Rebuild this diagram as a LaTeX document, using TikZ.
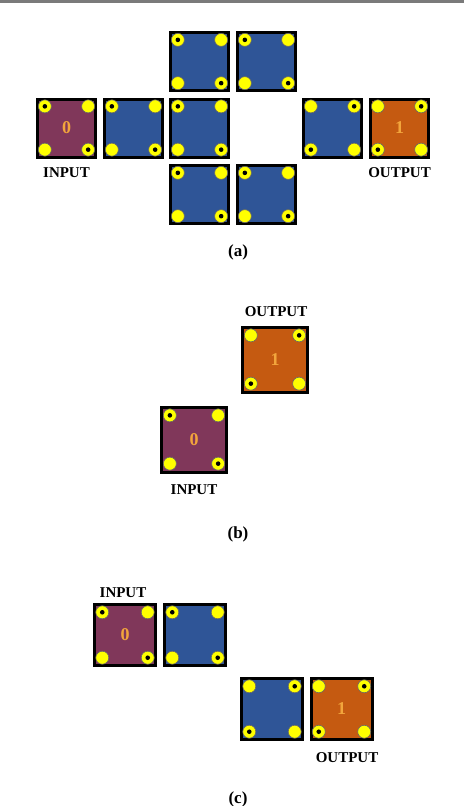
\documentclass[tikz,border=0pt]{standalone}
\usepackage{fontspec}
\setmainfont{Liberation Serif}
\usetikzlibrary{calc, positioning}
\definecolor{tileblue}{RGB}{47,85,151}
\definecolor{tilepurple}{RGB}{128,55,90}
\definecolor{tileorange}{RGB}{197,90,17}
\definecolor{padyellow}{RGB}{255,255,0}
\definecolor{numorange}{RGB}{242,165,60}
\definecolor{bargray}{RGB}{122,122,122}
% corner pads of a tile, #2 and #3 are the corners that carry a hole
\newcommand{\pads}[3]{%
  \foreach \c/\o in {north west/south east, north east/south west, south west/north east, south east/north west}
    \filldraw[pad] ($(#1.\c)!0.145!(#1.\o)$) circle (6.5);
  \foreach \c/\o in {#2, #3}
    \fill[black] ($(#1.\c)!0.145!(#1.\o)$) circle (2.3);
}
\newcommand{\padsA}[1]{\pads{#1}{north west/south east}{south east/north west}}
\newcommand{\padsB}[1]{\pads{#1}{north east/south west}{south west/north east}}

\begin{document}
\begin{tikzpicture}[x=1pt, y=-1pt,
  tile/.style={draw=black, line width=3pt, minimum size=#1, inner sep=0pt,
    text=numorange, font=\fontsize{18}{18}\selectfont\bfseries},
  tile/.default=58,
  pad/.style={fill=padyellow, draw=black!60, line width=0.6pt},
  lbl/.style={anchor=base, font=\fontsize{15}{15}\selectfont\bfseries},
  caption/.style={anchor=base, font=\fontsize{17}{17}\selectfont\bfseries}]
  \useasboundingbox (0,0) rectangle (464,806);
  \fill[bargray] (0,0) rectangle (464,3);

  % (a)
  \node[tile, fill=tilepurple] (inA) at (66.5,128) {0};
  \node[tile, fill=tileorange] (outA) at (399.5,128) {1};
  \foreach \n/\px/\py in {a1/133.5/128, a2/199.5/61.5, a3/266.5/61.5, a4/199.5/128, a5/199.5/194.5, a6/266.5/194.5}
    \node[tile, fill=tileblue] (\n) at (\px,\py) {};
  \node[tile, fill=tileblue] (a7) at (332.5,128) {};
  \foreach \n in {inA, a1, a2, a3, a4, a5, a6}
    \padsA{\n};
  \foreach \n in {a7, outA}
    \padsB{\n};
  \node[lbl] (inlblA) at (66.5,177) {INPUT};
  \node[lbl] (outlblA) at (399.5,177) {OUTPUT};
  \node[caption] (capA) at (238,256) {(a)};

  % (b)
  \node[tile=65, fill=tileorange] (outB) at (275,359.5) {1};
  \node[tile=65, fill=tilepurple] (inB) at (194,439.5) {0};
  \padsB{outB};
  \padsA{inB};
  \node[lbl] (outlblB) at (276,316) {OUTPUT};
  \node[lbl] (inlblB) at (194,494) {INPUT};
  \node[caption] (capB) at (238,538) {(b)};

  % (c)
  \node[tile=61, fill=tilepurple] (inC) at (125,635) {0};
  \node[tile=61, fill=tileblue] (c1) at (195,635) {};
  \node[tile=61, fill=tileblue] (c2) at (272,709) {};
  \node[tile=61, fill=tileorange] (outC) at (341.5,709) {1};
  \foreach \n in {inC, c1}
    \padsA{\n};
  \foreach \n in {c2, outC}
    \padsB{\n};
  \node[lbl] (inlblC) at (123,597) {INPUT};
  \node[lbl] (outlblC) at (347,762) {OUTPUT};
  \node[caption] (capC) at (238,803) {(c)};
\end{tikzpicture}
\end{document}
